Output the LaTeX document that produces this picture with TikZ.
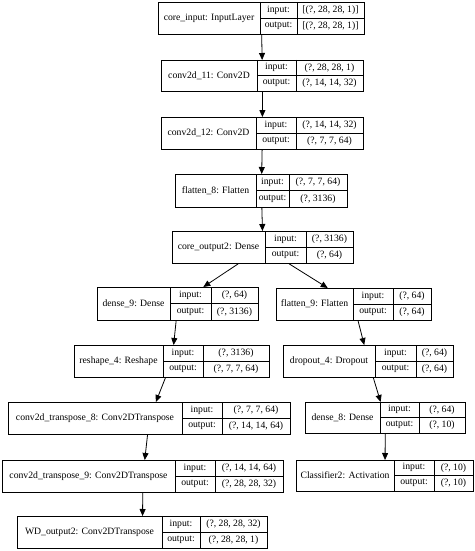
\documentclass[tikz,border=0pt]{standalone}
\usepackage{fontspec}
\setmainfont{Liberation Serif}
\usetikzlibrary{arrows.meta}
\begin{document}
\begin{tikzpicture}[x=1pt,y=-1pt,
  every node/.style={font=\fontsize{9.7}{11}\selectfont, inner sep=0pt},
  layerbox/.style={draw, line width=0.8pt, inner sep=0pt, anchor=north west},
  cellline/.style={line width=0.8pt},
  edgearrow/.style={line width=0.8pt, -{Triangle[length=7pt,width=6pt]}}]
\useasboundingbox (0,0) rectangle (474,551);
\foreach \n/\xa/\xb/\xc/\xd/\ya/\yb/\lab/\vin/\vout in {
  ci/158/260/297/364/2/34/{core\_input: InputLayer}/{[(?, 28, 28, 1)]}/{[(?, 28, 28, 1)]},
  cA/161/257/296/363/60/91/{conv2d\_11: Conv2D}/{(?, 28, 28, 1)}/{(?, 14, 14, 32)},
  cB/161/256/296/363/117/149/{conv2d\_12: Conv2D}/{(?, 14, 14, 32)}/{(?, 7, 7, 64)},
  fA/175/256/289/347/174/207/{flatten\_8: Flatten}/{(?, 7, 7, 64)}/{(?, 3136)},
  co/172/265/306/353/231/263/{core\_output2: Dense}/{(?, 3136)}/{(?, 64)},
  dA/97/170/211/258/287/320/{dense\_9: Dense}/{(?, 64)}/{(?, 3136)},
  fB/276/353/393/431/288/320/{flatten\_9: Flatten}/{(?, 64)}/{(?, 64)},
  rA/74/163/203/269/345/377/{reshape\_4: Reshape}/{(?, 3136)}/{(?, 7, 7, 64)},
  dr/283/375/416/453/345/377/{dropout\_4: Dropout}/{(?, 64)}/{(?, 64)},
  tA/8/182/222/290/402/434/{conv2d\_transpose\_8: Conv2DTranspose}/{(?, 7, 7, 64)}/{(?, 14, 14, 64)},
  dB/305/380/419/465/402/433/{dense\_8: Dense}/{(?, 64)}/{(?, 10)},
  tB/2/175/215/283/460/492/{conv2d\_transpose\_9: Conv2DTranspose}/{(?, 14, 14, 64)}/{(?, 28, 28, 32)},
  cl/296/394/434/473/460/491/{Classifier2: Activation}/{(?, 10)}/{(?, 10)},
  wd/17/162/200/267/516/548/{WD\_output2: Conv2DTranspose}/{(?, 28, 28, 32)}/{(?, 28, 28, 1)}%
}{
  \pgfmathsetmacro\ym{(\ya+\yb)/2}
  \pgfmathsetmacro\yu{(3*\ya+\yb)/4}
  \pgfmathsetmacro\yl{(\ya+3*\yb)/4}
  \node[layerbox, minimum width={(\xd-\xa)*1pt}, minimum height={(\yb-\ya)*1pt}] (\n) at (\xa,\ya) {};
  \draw[cellline] (\xb,\ya) -- (\xb,\yb);
  \draw[cellline] (\xc,\ya) -- (\xc,\yb);
  \draw[cellline] (\xb,\ym) -- (\xd,\ym);
  \node (\n-lab) at ({(\xa+\xb)/2},\ym) {\lab};
  \node (\n-il) at ({(\xb+\xc)/2},\yu) {input:};
  \node (\n-ol) at ({(\xb+\xc)/2},\yl) {output:};
  \node (\n-iv) at ({(\xc+\xd)/2},\yu) {\vin};
  \node (\n-ov) at ({(\xc+\xd)/2},\yl) {\vout};
}
\draw[edgearrow] (ci) -- (cA);
\draw[edgearrow] (cA) -- (cB);
\draw[edgearrow] (cB) -- (fA);
\draw[edgearrow] (fA) -- (co);
\draw[edgearrow] (co) -- (dA);
\draw[edgearrow] (co) -- (fB);
\draw[edgearrow] (dA) -- (rA);
\draw[edgearrow] (rA) -- (tA);
\draw[edgearrow] (tA) -- (tB);
\draw[edgearrow] (tB) -- (wd);
\draw[edgearrow] (fB) -- (dr);
\draw[edgearrow] (dr) -- (dB);
\draw[edgearrow] (dB) -- (cl);
\end{tikzpicture}
\end{document}
